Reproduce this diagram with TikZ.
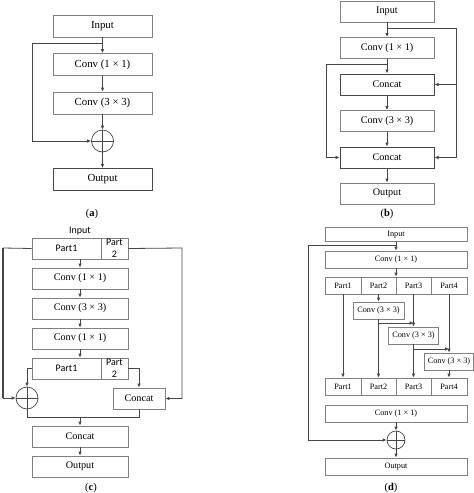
\documentclass[tikz,border=0pt]{standalone}
\usepackage{fontspec}
\setmainfont{Liberation Serif}
\newfontfamily\calfont{Carlito}
\usetikzlibrary{arrows.meta}
\definecolor{boxc}{RGB}{128,128,128}
\definecolor{linec}{RGB}{70,70,70}
\begin{document}
\begin{tikzpicture}[x=1pt,y=-1pt,
  box/.style={draw=boxc, line width=0.8pt, inner sep=0pt, align=center, text=black},
  boxA/.style={box, minimum width=99pt, minimum height=22pt, font=\fontsize{10.8}{12}\selectfont},
  boxB/.style={box, minimum width=94pt, minimum height=21pt, font=\fontsize{10.2}{12}\selectfont},
  boxC/.style={box, minimum width=96pt, minimum height=21pt, font=\fontsize{10.2}{12}\selectfont},
  boxD/.style={box, minimum width=142pt, minimum height=17pt, font=\fontsize{8.2}{9}\selectfont},
  partD/.style={box, minimum width=35pt, minimum height=17pt, font=\fontsize{8.2}{9}\selectfont},
  convD/.style={box, minimum width=50pt, minimum height=17pt, font=\fontsize{8.2}{9}\selectfont},
  heavy/.style={draw=linec, line width=1.0pt},
  sumc/.style={circle, draw=linec, line width=0.7pt, inner sep=0pt},
  conn/.style={draw=linec, line width=0.8pt},
  arr/.style={conn, -{Latex[length=4pt,width=3.6pt]}},
  lab/.style={font=\fontsize{10.5}{12}\selectfont}
]
\useasboundingbox (0,0) rectangle (474,493);

% ---------------- (a) ----------------
\node[boxA] (ain) at (102.5,26) {Input};
\node[boxA] (ac1) at (102.5,64.5) {Conv (1 × 1)};
\node[boxA] (ac3) at (102.5,103) {Conv (3 × 3)};
\node[sumc, minimum size=22pt] (asum) at (102.5,141) {};
\draw[conn] (asum.north) -- (asum.south) (asum.west) -- (asum.east);
\node[boxA, heavy] (aout) at (102.5,179.5) {Output};
\coordinate (aj) at (102.5,43);
\coordinate (al) at (32,43);
\draw[arr] (ain) -- (ac1);
\draw[arr] (ac1) -- (ac3);
\draw[arr] (ac3) -- (asum);
\draw[arr] (asum) -- (aout);
\draw[arr] (aj) -- (al) |- (asum.west);
\node[lab] (la) at (92,214) {(\textbf{a})};

% ---------------- (b) ----------------
\node[boxB] (bin) at (387,11.5) {Input};
\node[boxB] (bc1) at (387,48) {Conv (1 × 1)};
\node[boxB, heavy] (bcat1) at (387,84.5) {Concat};
\node[boxB] (bc3) at (387,121) {Conv (3 × 3)};
\node[boxB, heavy] (bcat2) at (387,157.5) {Concat};
\node[boxB] (bout) at (387,193.5) {Output};
\draw[arr] (bin) -- (bc1);
\draw[arr] (bc1) -- (bcat1);
\draw[arr] (bcat1) -- (bc3);
\draw[arr] (bc3) -- (bcat2);
\draw[arr] (bcat2) -- (bout);
\coordinate (bj1) at (387,28);
\coordinate (br) at (456,28);
\coordinate (bj2) at (387,64);
\coordinate (bl) at (326,64);
\draw[arr] (bj1) -- (br) |- (bcat1.east);
\draw[arr] (br) |- (bcat2.east);
\draw[arr] (bj2) -- (bl) |- (bcat2.west);
\node[lab] (lb) at (387,214) {(\textbf{b})};

% ---------------- (c) ----------------
\node[font=\calfont\fontsize{10}{12}\selectfont] (ctitle) at (80,231) {Input};
\node[box, minimum width=69pt, minimum height=21pt, font=\calfont\fontsize{10}{12}\selectfont] (cin1) at (66.5,248.5) {Part1};
\node[box, minimum width=27pt, minimum height=21pt, font=\calfont\fontsize{10}{11.5}\selectfont] (cin2) at (114.5,248.5) {Part\\2};
\node[boxC] (cc1) at (80,278.5) {Conv (1 × 1)};
\node[boxC] (cc3) at (80,308.5) {Conv (3 × 3)};
\node[boxC] (cc1b) at (80,338.5) {Conv (1 × 1)};
\node[box, minimum width=69pt, minimum height=21pt, font=\calfont\fontsize{10}{12}\selectfont] (cp1) at (66.5,368.5) {Part1};
\node[box, minimum width=27pt, minimum height=21pt, font=\calfont\fontsize{10}{11.5}\selectfont] (cp2) at (114.5,368.5) {Part\\2};
\node[sumc, minimum size=22pt] (csum) at (27,398) {};
\draw[conn] (csum.north) -- (csum.south) (csum.west) -- (csum.east);
\node[box, minimum width=52pt, minimum height=21pt, font=\fontsize{10.2}{12}\selectfont] (ccs) at (139,398.5) {Concat};
\node[boxC] (ccat) at (80,436.5) {Concat};
\node[boxC] (cout) at (80,466.5) {Output};
\draw[arr] (cc1.north |- cin1.south) -- (cc1.north);
\draw[arr] (cc1) -- (cc3);
\draw[arr] (cc3) -- (cc1b);
\draw[arr] (cc1b.south) -- (cc1b.south |- cp1.north);
\coordinate (cl1) at (3,248);
\coordinate (cl2) at (3,398);
\draw[conn] (cin1.west) -- (cl1);
\draw[draw=linec, line width=1.8pt] (cl1) -- (cl2);
\draw[arr] (cl2) -- (csum.west);
\coordinate (cr1) at (182,248);
\draw[arr] (cin2.east) -- (cr1) |- (ccs.east);
\coordinate (cp1l) at (27,368.5);
\draw[arr] (cp1.west) -- (cp1l) -- (csum.north);
\coordinate (cp2r) at (139,368.5);
\draw[arr] (cp2.east) -- (cp2r) -- (ccs.north);
\coordinate (cb1) at (27,417);
\coordinate (cb2) at (139,417);
\coordinate (cbm) at (80,417);
\draw[conn] (csum.south) -- (cb1) -- (cb2) -- (ccs.south);
\draw[arr] (cbm) -- (ccat.north);
\draw[arr] (ccat) -- (cout);
\node[lab] (lc) at (91,488) {(\textbf{c})};

% ---------------- (d) ----------------
\node[boxD, minimum height=14pt] (din) at (396,234.5) {Input};
\node[boxD] (dc1) at (396,259.5) {Conv (1 × 1)};
\node[partD, minimum width=36pt] (dp1) at (343,285.5) {Part1};
\node[partD] (dp2) at (378.5,285.5) {Part2};
\node[partD] (dp3) at (413.5,285.5) {Part3};
\node[partD, minimum width=36pt] (dp4) at (449,285.5) {Part4};
\node[convD, minimum width=51pt] (dk1) at (378.5,310.5) {Conv (3 × 3)};
\node[convD] (dk2) at (413.5,335.5) {Conv (3 × 3)};
\node[convD, minimum width=49pt] (dk3) at (449,361.5) {Conv (3 × 3)};
\node[partD, minimum width=36pt] (dq1) at (343,386.5) {Part1};
\node[partD] (dq2) at (378.5,386.5) {Part2};
\node[partD] (dq3) at (413.5,386.5) {Part3};
\node[partD, minimum width=36pt] (dq4) at (449,386.5) {Part4};
\node[boxD] (dc2) at (396,413.5) {Conv (1 × 1)};
\node[sumc, minimum size=18pt] (dsum) at (396,440) {};
\draw[conn] (dsum.north) -- (dsum.south) (dsum.west) -- (dsum.east);
\node[boxD] (dout) at (396,466.5) {Output};
\draw[arr] (din) -- (dc1);
\draw[arr] (dc1.south) -- (dc1.south |- dp2.north);
\coordinate (dj) at (396,245);
\coordinate (dl) at (308,245);
\draw[arr] (dj) -- (dl) |- (dsum.west);
\draw[arr] (dp1) -- (dq1);
\draw[arr] (dp2) -- (dk1);
\draw[arr] (dk1) -- (dq2);
\draw[arr] (dp3) -- (dk2);
\draw[arr] (dk2) -- (dq3);
\draw[arr] (dp4) -- (dk3);
\draw[arr] (dk3) -- (dq4);
\coordinate (dh1a) at (378.5,323);
\coordinate (dh1b) at (413.5,323);
\coordinate (dh2a) at (413.5,349);
\coordinate (dh2b) at (449,349);
\draw[arr] (dh1a) -- (dh1b);
\draw[arr] (dh2a) -- (dh2b);
\draw[arr] (dc2) -- (dsum);
\draw[arr] (dsum) -- (dout);
\node[lab] (ld) at (391,488) {(\textbf{d})};
\end{tikzpicture}
\end{document}
